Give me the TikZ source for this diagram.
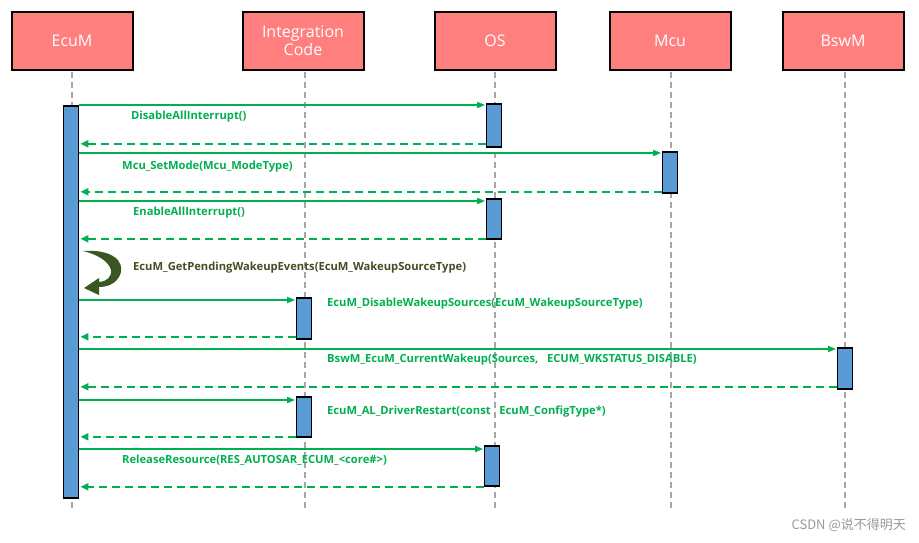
\documentclass[tikz,border=0pt]{standalone}
\usepackage{fontspec}
\setmainfont{Carlito}
\newfontfamily\headfont{Open Sans}
\newfontfamily\msgfont{Open Sans}
\newfontfamily\cjkfont{Noto Sans CJK SC}
\usetikzlibrary{arrows.meta}
\definecolor{headred}{HTML}{FF7F7F}
\definecolor{barblue}{HTML}{5B9BD5}
\definecolor{msggreen}{HTML}{00B050}
\definecolor{selfgreen}{HTML}{385723}
\definecolor{selftext}{HTML}{4A4A24}
\definecolor{lifegray}{HTML}{A6A6A6}
\tikzset{
  head/.style={draw=black, line width=2pt, fill=headred, minimum width=121pt, minimum height=58pt,
    inner sep=0pt, text=white, font=\headfont\fontsize{16}{18}\selectfont, align=center},
  life/.style={draw=lifegray, line width=2pt, dash pattern=on 6pt off 4pt},
  actbar/.style={draw=black, line width=1.8pt, fill=barblue, minimum width=15pt, inner sep=0pt, anchor=north},
  call/.style={draw=msggreen, line width=1.8pt, -{Triangle[length=8pt,width=6pt]}, shorten >=0.5pt},
  ret/.style={draw=msggreen, line width=2.2pt, dash pattern=on 8pt off 5pt, -{Triangle[length=8pt,width=7pt]}},
  msg/.style={anchor=west, text=msggreen, font=\msgfont\bfseries\fontsize{11.2}{12}\selectfont, inner sep=0pt},
}
\begin{document}
\begin{tikzpicture}[x=1pt,y=-1pt]
\useasboundingbox (0,0) rectangle (919,543);
\fill[white] (0,0) rectangle (919,543);
% headers
\node[head] (ecum) at (72,41) {EcuM};
\node[head] (ic) at (303,41) {Integration\\Code};
\node[head] (os) at (495,41) {OS};
\node[head] (mcu) at (670,41) {Mcu};
\node[head] (bswm) at (843,41) {BswM};
% lifeline ends
\coordinate (ecumEnd) at (72,509);
\coordinate (icEnd) at (305,509);
\coordinate (osEnd) at (495,509);
\coordinate (mcuEnd) at (671,509);
\coordinate (bswmEnd) at (845,509);
\draw[life] ([yshift=-1pt]ecum.south) -- (ecumEnd);
\draw[life] ([xshift=2pt,yshift=-1pt]ic.south) -- (icEnd);
\draw[life] ([yshift=-1pt]os.south) -- (osEnd);
\draw[life] ([xshift=1pt,yshift=-1pt]mcu.south) -- (mcuEnd);
\draw[life] ([xshift=2pt,yshift=-1pt]bswm.south) -- (bswmEnd);
% activation bars
\node[actbar, minimum height=392pt] (bar0) at (71,105) {};
\node[actbar, minimum height=43pt] (os1) at (494,103) {};
\node[actbar, minimum height=41pt] (mcu1) at (670,151) {};
\node[actbar, minimum height=40pt] (os2) at (494,198) {};
\node[actbar, minimum height=41pt] (ic1) at (304,297) {};
\node[actbar, minimum height=41pt] (bsw1) at (845,347) {};
\node[actbar, minimum height=40pt] (ic2) at (304,396) {};
\node[actbar, minimum height=40pt] (os3) at (492,445) {};
% messages
\draw[call] ([yshift=-2pt]os1.north west -| bar0.east) -- ([yshift=-2pt]os1.north west);
\node[msg] (m1) at (131,117) {DisableAllInterrupt()};
\draw[ret] ([yshift=4pt]os1.south west) -- ([yshift=4pt,xshift=1pt]os1.south west -| bar0.east);

\draw[call] ([yshift=-2pt]mcu1.north west -| bar0.east) -- ([yshift=-2pt]mcu1.north west);
\node[msg] (m2) at (122,167) {Mcu\_SetMode(Mcu\_ModeType)};
\draw[ret] ([yshift=2pt]mcu1.south west) -- ([yshift=2pt,xshift=1pt]mcu1.south west -| bar0.east);

\draw[call] ([yshift=-3pt]os2.north west -| bar0.east) -- ([yshift=-3pt]os2.north west);
\node[msg] (m3) at (133,213) {EnableAllInterrupt()};
\draw[ret] ([yshift=1pt]os2.south west) -- ([yshift=1pt,xshift=1pt]os2.south west -| bar0.east);

% self call
\fill[selfgreen] (83,251) .. controls (110,249) and (126,260) .. (120,275)
  .. controls (116,284) and (107,287) .. (99,287)
  -- (99,295) -- (84,288) -- (99,278) -- (99,282)
  .. controls (106,282) and (112,277) .. (111,270)
  .. controls (109,261) and (96,254) .. (83,251) -- cycle;
\node[msg, text=selftext] (m4) at (133,268) {EcuM\_GetPendingWakeupEvents(EcuM\_WakeupSourceType)};

\draw[call] ([yshift=-3pt]ic1.north west -| bar0.east) -- ([yshift=-3pt]ic1.north west);
\node[msg] (m5) at (327,304) {EcuM\_DisableWakeupSources(EcuM\_WakeupSourceType)};
\draw[ret] ([yshift=3pt]ic1.south west) -- ([yshift=3pt,xshift=1pt]ic1.south west -| bar0.east);

\draw[call] ([yshift=-2pt]bsw1.north west -| bar0.east) -- ([yshift=-2pt]bsw1.north west);
\node[msg] (m6) at (327,360) {BswM\_EcuM\_CurrentWakeup(Sources,\ \ \ ECUM\_WKSTATUS\_DISABLE)};
\draw[ret] ([yshift=3pt]bsw1.south west) -- ([yshift=3pt,xshift=1pt]bsw1.south west -| bar0.east);

\draw[call] ([yshift=-4pt]ic2.north west -| bar0.east) -- ([yshift=-4pt]ic2.north west);
\node[msg] (m7) at (327,412) {EcuM\_AL\_DriverRestart(const\ \ \ EcuM\_ConfigType*)};
\draw[ret] ([yshift=1pt]ic2.south west) -- ([yshift=1pt,xshift=1pt]ic2.south west -| bar0.east);

\draw[call] ([yshift=-4pt]os3.north west -| bar0.east) -- ([yshift=-4pt]os3.north west);
\node[msg] (m8) at (122,460) {ReleaseResource(RES\_AUTOSAR\_ECUM\_<core\#>)};
\draw[ret] ([yshift=0pt]os3.south west) -- ([yshift=0pt,xshift=1pt]os3.south west -| bar0.east);

% watermark
\node[anchor=east, text=black!40, font=\cjkfont\fontsize{13}{13}\selectfont, inner sep=0pt] (wm) at (906,525) {CSDN @说不得明天};
\end{tikzpicture}
\end{document}
